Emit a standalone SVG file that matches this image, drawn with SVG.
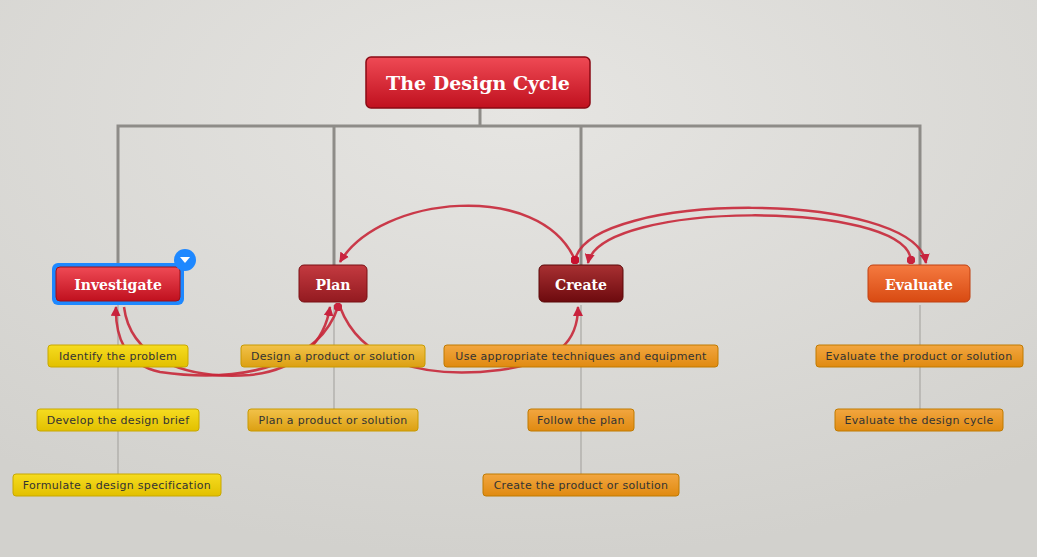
<svg xmlns="http://www.w3.org/2000/svg" width="1037" height="557" viewBox="0 0 1037 557">
<defs>
<radialGradient id="bg" cx="50%" cy="20%" r="80%"><stop offset="0" stop-color="#e6e5e2"/><stop offset="1" stop-color="#d2d1cd"/></radialGradient>
<linearGradient id="red" x1="0" y1="0" x2="0" y2="1"><stop offset="0" stop-color="#ef4a55"/><stop offset="1" stop-color="#c0101e"/></linearGradient>
<linearGradient id="plan" x1="0" y1="0" x2="0" y2="1"><stop offset="0" stop-color="#c43a40"/><stop offset="1" stop-color="#931a20"/></linearGradient>
<linearGradient id="create" x1="0" y1="0" x2="0" y2="1"><stop offset="0" stop-color="#a83032"/><stop offset="1" stop-color="#6d0a0e"/></linearGradient>
<linearGradient id="eval" x1="0" y1="0" x2="0" y2="1"><stop offset="0" stop-color="#f57a40"/><stop offset="1" stop-color="#d84a12"/></linearGradient>
<linearGradient id="yel" x1="0" y1="0" x2="0" y2="1"><stop offset="0" stop-color="#f6dc20"/><stop offset="1" stop-color="#e2c000"/></linearGradient>
<linearGradient id="gold" x1="0" y1="0" x2="0" y2="1"><stop offset="0" stop-color="#f2c24a"/><stop offset="1" stop-color="#dca012"/></linearGradient>
<linearGradient id="org" x1="0" y1="0" x2="0" y2="1"><stop offset="0" stop-color="#f2a640"/><stop offset="1" stop-color="#e08a10"/></linearGradient>
<marker id="ah" viewBox="0 0 10 10" refX="9" refY="5" markerWidth="4" markerHeight="4" orient="auto"><path d="M0,0L10,5L0,10z" fill="#c8102e"/></marker>
<marker id="dot" viewBox="0 0 10 10" refX="5" refY="5" markerWidth="3.5" markerHeight="3.5"><circle cx="5" cy="5" r="5" fill="#c8102e"/></marker>
</defs>
<style>
.mt{font-family:"DejaVu Serif",serif;font-weight:bold;fill:#fff;text-anchor:middle}
.st{font-family:"DejaVu Sans",sans-serif;font-size:11px;fill:#333;text-anchor:middle;letter-spacing:0.3px}
.tr{stroke:#8e8c88;stroke-width:3;fill:none}
.th{stroke:#aaa8a4;stroke-width:1.2;fill:none}
.c{stroke:#c8283a;stroke-width:2.5;fill:none;opacity:.9}
</style>
<rect width="1037" height="557" fill="url(#bg)"/>
<g id="tree">
<path class="tr" d="M480,108V126M118,265V126H920V265M334,126V265M581,126V265"/>
<path class="th" d="M118,305V475M334,305V410M581,305V475M920,305V410"/>
</g>
<g id="connectors">
<path class="c" d="M575,260C540,180 380,195 340,262" marker-start="url(#dot)" marker-end="url(#ah)"/>
<path class="c" d="M575,260C590,190 915,190 926,263" marker-start="url(#dot)" marker-end="url(#ah)"/>
<path class="c" d="M911,260C905,200 600,200 588,263" marker-start="url(#dot)" marker-end="url(#ah)"/>
<path class="c" d="M338,307C320,360 250,385 160,372C125,365 115,335 116,307" marker-start="url(#dot)" marker-end="url(#ah)"/>
<path class="c" d="M124,307C130,355 180,380 250,375C300,370 325,340 330,307" marker-end="url(#ah)"/>
<path class="c" d="M340,307C360,360 420,380 500,370C560,362 578,340 578,307" marker-end="url(#ah)"/>
</g>
<g id="root"><rect x="366" y="57" width="224" height="51" rx="5" fill="url(#red)" stroke="#8a0a14" stroke-width="1.5"/><text class="mt" x="478" y="90" font-size="19">The Design Cycle</text></g>
<g id="investigate"><rect x="52" y="263" width="132" height="42" rx="6" fill="#1e88ff"/><rect x="56" y="267" width="124" height="34" rx="4" fill="url(#red)" stroke="#9a1018"/><text class="mt" x="118" y="290" font-size="14">Investigate</text><circle cx="185" cy="260" r="11" fill="#1e88ff"/><path d="M180,257h10l-5,6z" fill="#fff"/></g>
<g id="plan"><rect x="299" y="265" width="68" height="37" rx="5" fill="url(#plan)" stroke="#7a1014"/><text class="mt" x="333" y="290" font-size="14">Plan</text></g>
<g id="create"><rect x="539" y="265" width="84" height="37" rx="5" fill="url(#create)" stroke="#5a0808"/><text class="mt" x="581" y="290" font-size="14">Create</text></g>
<g id="evaluate"><rect x="868" y="265" width="102" height="37" rx="5" fill="url(#eval)" stroke="#c04010"/><text class="mt" x="919" y="290" font-size="14">Evaluate</text></g>
<g id="s1"><rect x="48" y="345" width="140" height="22" rx="3" fill="url(#yel)" stroke="#c8a800"/><text class="st" x="118" y="360">Identify the problem</text></g>
<g id="s2"><rect x="37" y="409" width="162" height="22" rx="3" fill="url(#yel)" stroke="#c8a800"/><text class="st" x="118" y="424">Develop the design brief</text></g>
<g id="s3"><rect x="13" y="474" width="208" height="22" rx="3" fill="url(#yel)" stroke="#c8a800"/><text class="st" x="117" y="489">Formulate a design specification</text></g>
<g id="s4"><rect x="241" y="345" width="184" height="22" rx="3" fill="url(#gold)" stroke="#c89a00"/><text class="st" x="333" y="360">Design a product or solution</text></g>
<g id="s5"><rect x="248" y="409" width="170" height="22" rx="3" fill="url(#gold)" stroke="#c89a00"/><text class="st" x="333" y="424">Plan a product or solution</text></g>
<g id="s6"><rect x="444" y="345" width="274" height="22" rx="3" fill="url(#org)" stroke="#c07a00"/><text class="st" x="581" y="360">Use appropriate techniques and equipment</text></g>
<g id="s7"><rect x="528" y="409" width="106" height="22" rx="3" fill="url(#org)" stroke="#c07a00"/><text class="st" x="581" y="424">Follow the plan</text></g>
<g id="s8"><rect x="483" y="474" width="196" height="22" rx="3" fill="url(#org)" stroke="#c07a00"/><text class="st" x="581" y="489">Create the product or solution</text></g>
<g id="s9"><rect x="816" y="345" width="207" height="22" rx="3" fill="url(#org)" stroke="#c07a00"/><text class="st" x="919" y="360">Evaluate the product or solution</text></g>
<g id="s10"><rect x="835" y="409" width="168" height="22" rx="3" fill="url(#org)" stroke="#c07a00"/><text class="st" x="919" y="424">Evaluate the design cycle</text></g>
</svg>
